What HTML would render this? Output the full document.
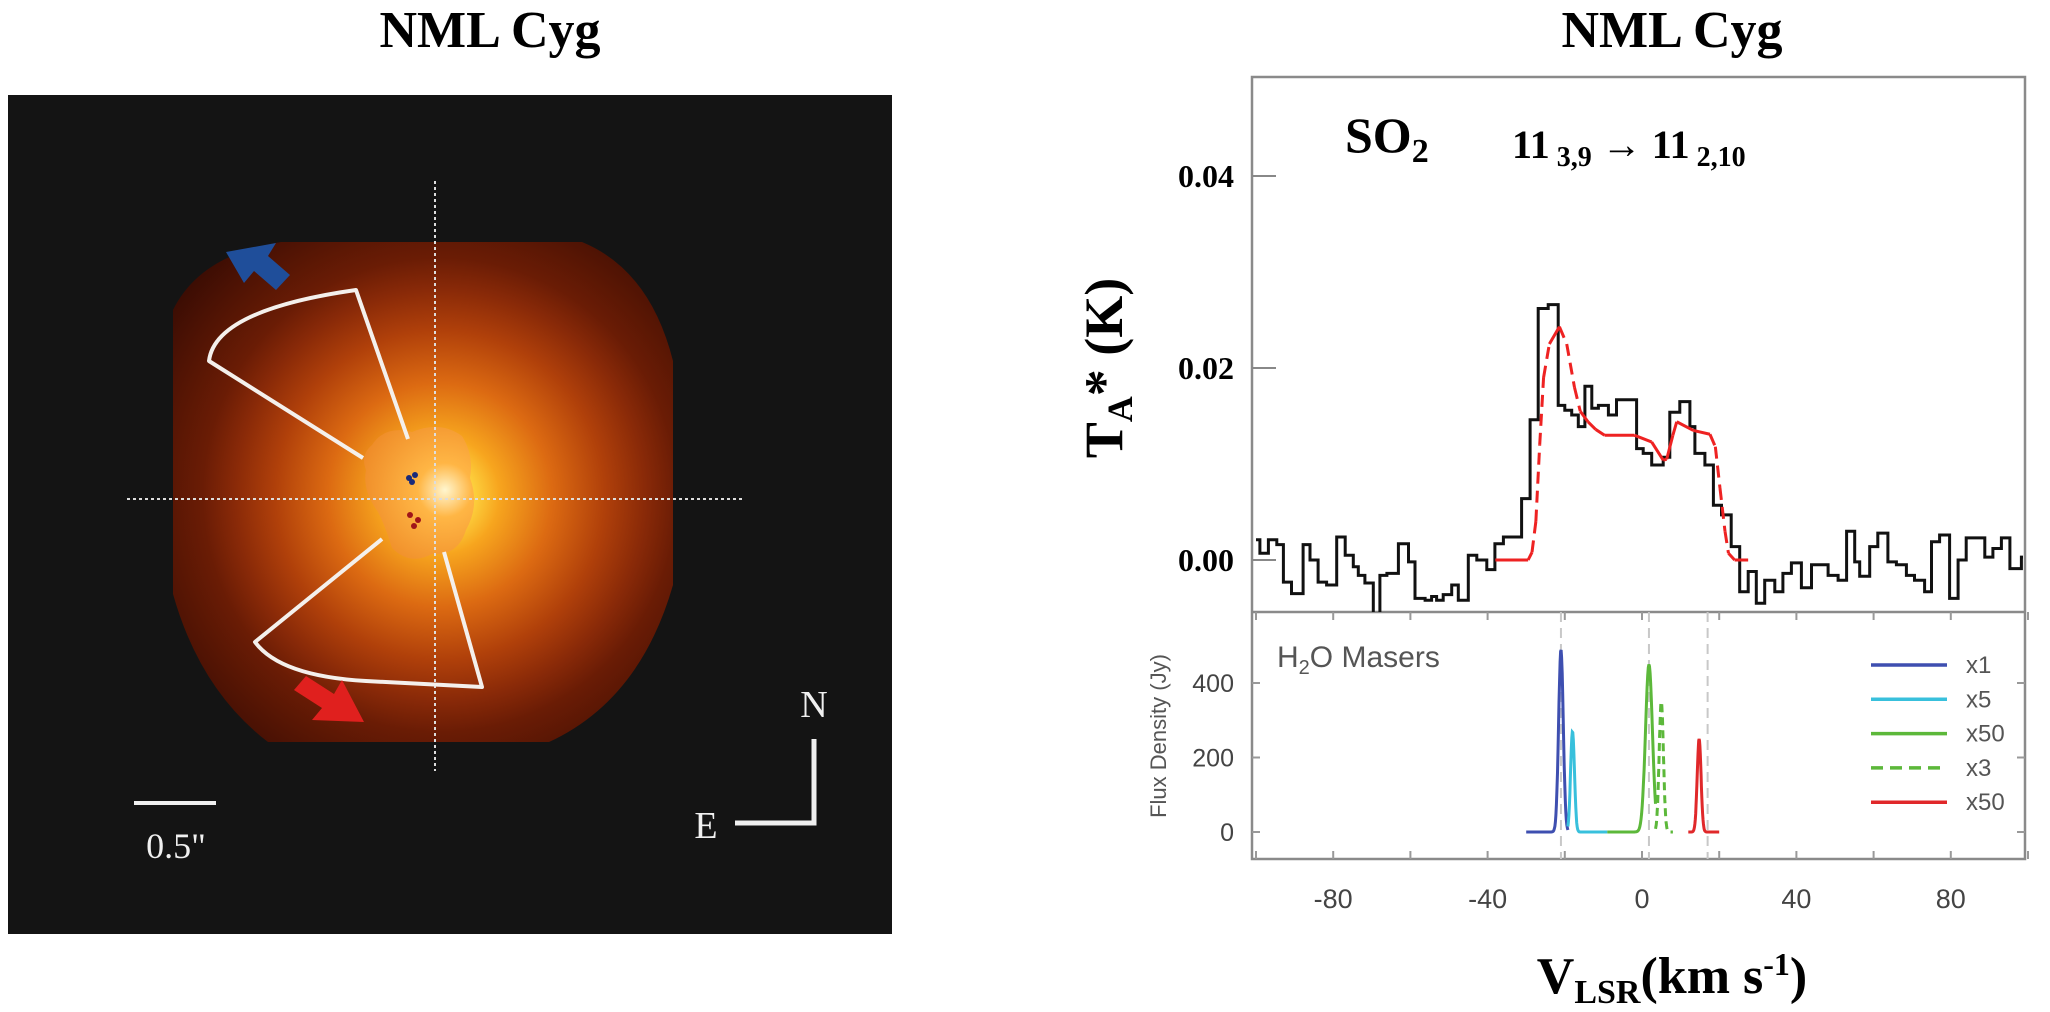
<!DOCTYPE html>
<html><head><meta charset="utf-8">
<style>
html,body{margin:0;padding:0;background:#fff;}
svg{display:block;}
.serif{font-family:"Liberation Serif","DejaVu Serif",serif;font-weight:bold;}
.sans{font-family:"Liberation Sans","DejaVu Sans",sans-serif;}
</style></head>
<body>
<svg id="fig" width="2050" height="1012" viewBox="0 0 2050 1012" xmlns="http://www.w3.org/2000/svg">
<defs>
  <radialGradient id="neb" cx="440" cy="495" r="330" gradientUnits="userSpaceOnUse">
    <stop offset="0" stop-color="#fffbe6"/>
    <stop offset="0.07" stop-color="#ffe24a"/>
    <stop offset="0.18" stop-color="#f7a51e"/>
    <stop offset="0.34" stop-color="#dc6a12"/>
    <stop offset="0.5" stop-color="#b0400a"/>
    <stop offset="0.62" stop-color="#8a2a08"/>
    <stop offset="0.72" stop-color="#6a1c05"/>
    <stop offset="1" stop-color="#3a0c03"/>
  </radialGradient>
  <radialGradient id="blobg" cx="445" cy="490" r="90" gradientUnits="userSpaceOnUse">
    <stop offset="0" stop-color="#fff6d0"/>
    <stop offset="0.3" stop-color="#ffb445"/>
    <stop offset="1" stop-color="#ee8a28"/>
  </radialGradient>
  <clipPath id="upclip"><rect x="1252" y="77" width="773" height="535"/></clipPath>
  <clipPath id="loclip"><rect x="1252" y="612" width="773" height="247"/></clipPath>
</defs>

<!-- LEFT IMAGE -->
<g>
  <text class="serif" x="490" y="47" font-size="52" text-anchor="middle">NML Cyg</text>
  <rect x="8" y="95" width="884" height="839" fill="#141414"/>
  <path d="M281,242 L582,242 Q650,270 673,361 L673,585 Q640,700 549,742 L268,742 Q200,690 173,594 L173,310 Q200,255 281,242 Z" fill="url(#neb)"/>
  <path d="M372,445 Q385,425 412,432 Q440,420 462,436 Q474,455 470,478 Q480,505 466,530 Q458,556 432,554 Q410,566 392,548 Q386,528 378,512 Q362,490 366,470 Q360,455 372,445 Z" fill="url(#blobg)" opacity="0.95"/>
  <line x1="435" y1="181" x2="435" y2="771" stroke="#ddd" stroke-width="2" stroke-dasharray="3,3"/>
  <line x1="127" y1="499" x2="743" y2="499" stroke="#ddd" stroke-width="2" stroke-dasharray="3,3"/>
  <path d="M363,458 L209,361 Q215,310 356,290 L408,439" fill="none" stroke="#f4f0ec" stroke-width="4" stroke-linejoin="round"/>
  <path d="M382,539 L255,642 Q280,676 366,681 L482,687 L444,552" fill="none" stroke="#f4f0ec" stroke-width="4" stroke-linejoin="round"/>
  <polygon points="226,252 276,243 268,256 290,275 276,290 254,271 244,283" fill="#1f4e9a"/>
  <polygon points="364,722 312,720 322,708 294,690 306,676 334,694 342,680" fill="#e0201e"/>
  <circle cx="409" cy="478" r="3" fill="#1a2a7a"/>
  <circle cx="415" cy="475" r="3" fill="#1a2a7a"/>
  <circle cx="412" cy="482" r="3" fill="#1a2a7a"/>
  <circle cx="410" cy="515" r="3" fill="#a0141a"/>
  <circle cx="418" cy="520" r="3" fill="#a0141a"/>
  <circle cx="414" cy="526" r="3" fill="#a0141a"/>
  <line x1="134" y1="803" x2="216" y2="803" stroke="#f0f0f0" stroke-width="4"/>
  <text x="176" y="858" font-family="Liberation Serif, serif" font-size="36" fill="#f0f0f0" text-anchor="middle">0.5"</text>
  <text x="814" y="717" font-family="Liberation Serif, serif" font-size="38" fill="#f0f0f0" text-anchor="middle">N</text>
  <path d="M735,823 L814,823 L814,739" fill="none" stroke="#f0f0f0" stroke-width="5"/>
  <text x="706" y="838" font-family="Liberation Serif, serif" font-size="38" fill="#f0f0f0" text-anchor="middle">E</text>
</g>

<!-- RIGHT CHART -->
<g id="chart">
  <text class="serif" x="1672" y="47" font-size="52" text-anchor="middle">NML Cyg</text>
  <text class="serif" x="1345" y="152" font-size="50">SO<tspan font-size="34" dy="10">2</tspan></text>
  <text class="serif" x="1512" y="158" font-size="40">11<tspan font-size="28" dy="8"> 3,9</tspan><tspan dy="-8"> → 11</tspan><tspan font-size="28" dy="8"> 2,10</tspan></text>
  <text class="serif" transform="translate(1122,368) rotate(-90)" font-size="54" text-anchor="middle">T<tspan font-size="36" dy="10">A</tspan><tspan dy="-10">* (K)</tspan></text>
  <text class="serif" x="1672" y="993" font-size="52" text-anchor="middle">V<tspan font-size="34" dy="10">LSR</tspan><tspan dy="-10">(km s</tspan><tspan font-size="32" dy="-18">-1</tspan><tspan dy="18">)</tspan></text>
  <text class="sans" transform="translate(1166,736) rotate(-90)" font-size="22" fill="#555" text-anchor="middle">Flux Density (Jy)</text>
  <text class="sans" x="1277" y="667" font-size="30" fill="#555">H<tspan font-size="20" dy="7">2</tspan><tspan dy="-7">O Masers</tspan></text>
  <g id="axes"></g>
  <g id="marks"></g>
</g>
</svg>
<script>
// ---- data ----
const velEdges = [-100,-99,-96.8,-94.6,-92.9,-90.8,-87.8,-86,-83.9,-81.7,
-79.1,-76.9,-74.8,-73.5,-71.8,-69.6,-67.9,-66.1,-63.1,-60.5,
-58.8,-56.2,-54.5,-53.2,-51.5,-49.3,-47.6,-45,-42.8,-40.2,
-38.1,-35.9,-33.8,-31.2,-29,-26.9,-24.3,-21.7,-20,-18.2,
-16.5,-14.8,-13,-11.3,-8.7,-6.6,-5.3,-1.4,0.3,2.5,
5.5,7.2,9.8,12.4,13.7,16.3,18.5,20.6,23.1,25.3,
27.5,29.6,31.8,34.4,36.5,38.7,41.3,43.9,48.2,50.8,
53,55.1,56.4,59,61.1,63.7,65.9,68.5,70.6,73.2,
75,77.1,79.7,81.9,84,88.8,90.9,93.1,95.3,98.3,98.7];
const temps = [.0021,.0007,.0021,.0016,-.0023,-.0035,.0016,0,-.0023,-.0026,
.0024,.0005,-.0007,-.0016,-.0024,-.006,-.0016,-.0014,.0017,-.0002,
-.004,-.0042,-.0038,-.0042,-.0036,-.0026,-.0042,.0005,0,-.001,
.0017,.0024,.0024,.0064,.0146,.0262,.0266,.0161,.0156,.0151,
.0139,.0181,.0158,.0161,.0151,.0167,.0167,.0116,.0111,.0099,
.0107,.0154,.0165,.0139,.0111,.0099,.0057,.0047,.0014,-.0033,
-.0012,-.0045,-.0021,-.0033,-.0014,-.0003,-.0029,-.0005,-.0016,-.0021,
.003,-.0002,-.0017,.0014,.0028,-.0002,-.0005,-.0016,-.0021,-.0033,
.0019,.0026,-.004,0,.0023,.0003,.0012,.0023,-.0009,.0003];
const fitVel = [-38,-29.5,-28.5,-27.5,-26.5,-25.5,-24,-21.4,-19.5,-17.5,-16,-14,-12,-9.7,-2,2.5,5.5,6.4,8,9,13.3,17.6,19,20.2,21.5,22.4,24,27.5];
const fitT = [0,0,.0008,.004,.012,.019,.0225,.0243,.0225,.018,.0155,.0144,.0136,.013,.013,.0123,.0104,.0105,.013,.0144,.0135,.0131,.0118,.0075,.003,.0007,0,0];
const fitDashed = [0,1,1,1,1,1,0,1,1,1,0,0,0,0,0,0,0,0,0,0,0,1,1,1,1,1,0,0];
const xTicks = [-80,-40,0,40,80];
const xMinor = [-100,-80,-60,-40,-20,0,20,40,60,80,100];
const yTicks = [0,0.02,0.04];
const yTickLabels = ["0.00","0.02","0.04"];
const fluxTicks = [0,200,400];
const maserNames = ["x1","x5","x50","x3","x50"];
const maserColors = ["#3e4fb0","#38c0dc","#5cb83a","#5cb83a","#e0282a"];
const maserDashed = [false,false,false,true,false];
const maserStart = [-30,-19.2,-9,3.5,12];
const maserEnd = [-19.2,-9,3.5,8,20];
const maserCenters = [-21,-18,1.8,5,14.8];
const maserPeaks = [490,270,450,350,250];
const maserWidths = [0.6,0.5,0.9,0.55,0.5];
const refLines = [-21,1.8,17];

// ---- axes ----
const X0=1252, X1=2025, YT=77, YM=612, YB=859;
const xS = v => 1642 + v*3.86;
const yU = t => 560 - t*9600;
const yL = f => 832 - f*149/400;
const NS='http://www.w3.org/2000/svg';
const axes=document.getElementById('axes'), marks=document.getElementById('marks');
function mk(tag, attrs, parent){const e=document.createElementNS(NS,tag);for(const k in attrs)e.setAttribute(k,attrs[k]);parent.appendChild(e);return e;}

let e;
e=mk('rect',{x:X0,y:YT,width:X1-X0,height:YB-YT,fill:'none',stroke:'#8a8a8a','stroke-width':2.5},axes);


e=mk('line',{x1:X0,x2:X1,y1:YM,y2:YM,stroke:'#8a8a8a','stroke-width':2.5},axes);



yTicks.forEach((t,i)=>{
  e=mk('line',{x1:X0,x2:X0+24,y1:yU(t),y2:yU(t),stroke:'#888','stroke-width':2},axes);
  
  
  e=mk('text',{x:1234,y:yU(t)+11,'font-size':32,'text-anchor':'end',class:'serif'},axes);
  e.textContent=yTickLabels[i];
  
  
});
xMinor.forEach(v=>{
  e=mk('line',{x1:xS(v),x2:xS(v),y1:YM,y2:YM+8,stroke:'#999','stroke-width':2},axes);
  
  
  e=mk('line',{x1:xS(v),x2:xS(v),y1:YB,y2:YB-8,stroke:'#999','stroke-width':2},axes);
  
  
});
xTicks.forEach(v=>{
  e=mk('text',{x:xS(v),y:908,'font-size':27,fill:'#444','text-anchor':'middle',class:'sans'},axes);
  e.textContent=v;
  
  
});
fluxTicks.forEach(f=>{
  e=mk('text',{x:1234,y:yL(f)+9,'font-size':25,fill:'#444','text-anchor':'end',class:'sans'},axes);
  e.textContent=f;
  
  
  e=mk('line',{x1:X0,x2:X0+8,y1:yL(f),y2:yL(f),stroke:'#999','stroke-width':2},axes);
  
  
  e=mk('line',{x1:X1,x2:X1-8,y1:yL(f),y2:yL(f),stroke:'#999','stroke-width':2},axes);
  
  
});
refLines.forEach(v=>{
  e=mk('line',{x1:xS(v),x2:xS(v),y1:YM,y2:YB,stroke:'#c8c8c8','stroke-width':2,'stroke-dasharray':'10,6'},axes);
  
  
});

// histogram
let d='';
for(let i=0;i<temps.length && i+1<velEdges.length;i++){
  const y=yU(temps[i]);
  d += (i===0?'M':'L')+xS(velEdges[i]).toFixed(1)+','+y.toFixed(1)+' L'+xS(velEdges[i+1]).toFixed(1)+','+y.toFixed(1)+' ';
}
e=mk('path',{d:d,fill:'none',stroke:'#111','stroke-width':3,'clip-path':'url(#upclip)'},marks);



// fit
for(let i=0;i<fitVel.length-1;i++){
  const a={x1:xS(fitVel[i]),y1:yU(fitT[i]),x2:xS(fitVel[i+1]),y2:yU(fitT[i+1]),stroke:'#ee2222','stroke-width':3,'stroke-linecap':'butt'};
  if(fitDashed[i]) a['stroke-dasharray']='12,7';
  e=mk('line',a,marks);
  
  
}

// masers
for(let m=0;m<maserNames.length;m++){
  let p='';
  const n=80;
  for(let k=0;k<=n;k++){
    const v=maserStart[m]+(maserEnd[m]-maserStart[m])*k/n;
    const f=maserPeaks[m]*Math.exp(-0.5*Math.pow((v-maserCenters[m])/maserWidths[m],2));
    p+=(k?'L':'M')+xS(v).toFixed(1)+','+yL(f).toFixed(1)+' ';
  }
  const a={d:p,fill:'none',stroke:maserColors[m],'stroke-width':3,'clip-path':'url(#loclip)'};
  if(maserDashed[m]) a['stroke-dasharray']='8,5';
  e=mk('path',a,marks);
  
  
  const ly=665+m*34.3;
  const la={x1:1871,x2:1947,y1:ly,y2:ly,stroke:maserColors[m],'stroke-width':3.5};
  if(maserDashed[m]) la['stroke-dasharray']='12,7';
  e=mk('line',la,marks);
  
  
  e=mk('text',{x:1966,y:ly+8,'font-size':24,fill:'#555',class:'sans'},marks);
  e.textContent=maserNames[m];
  
  
}
</script>
</body></html>
